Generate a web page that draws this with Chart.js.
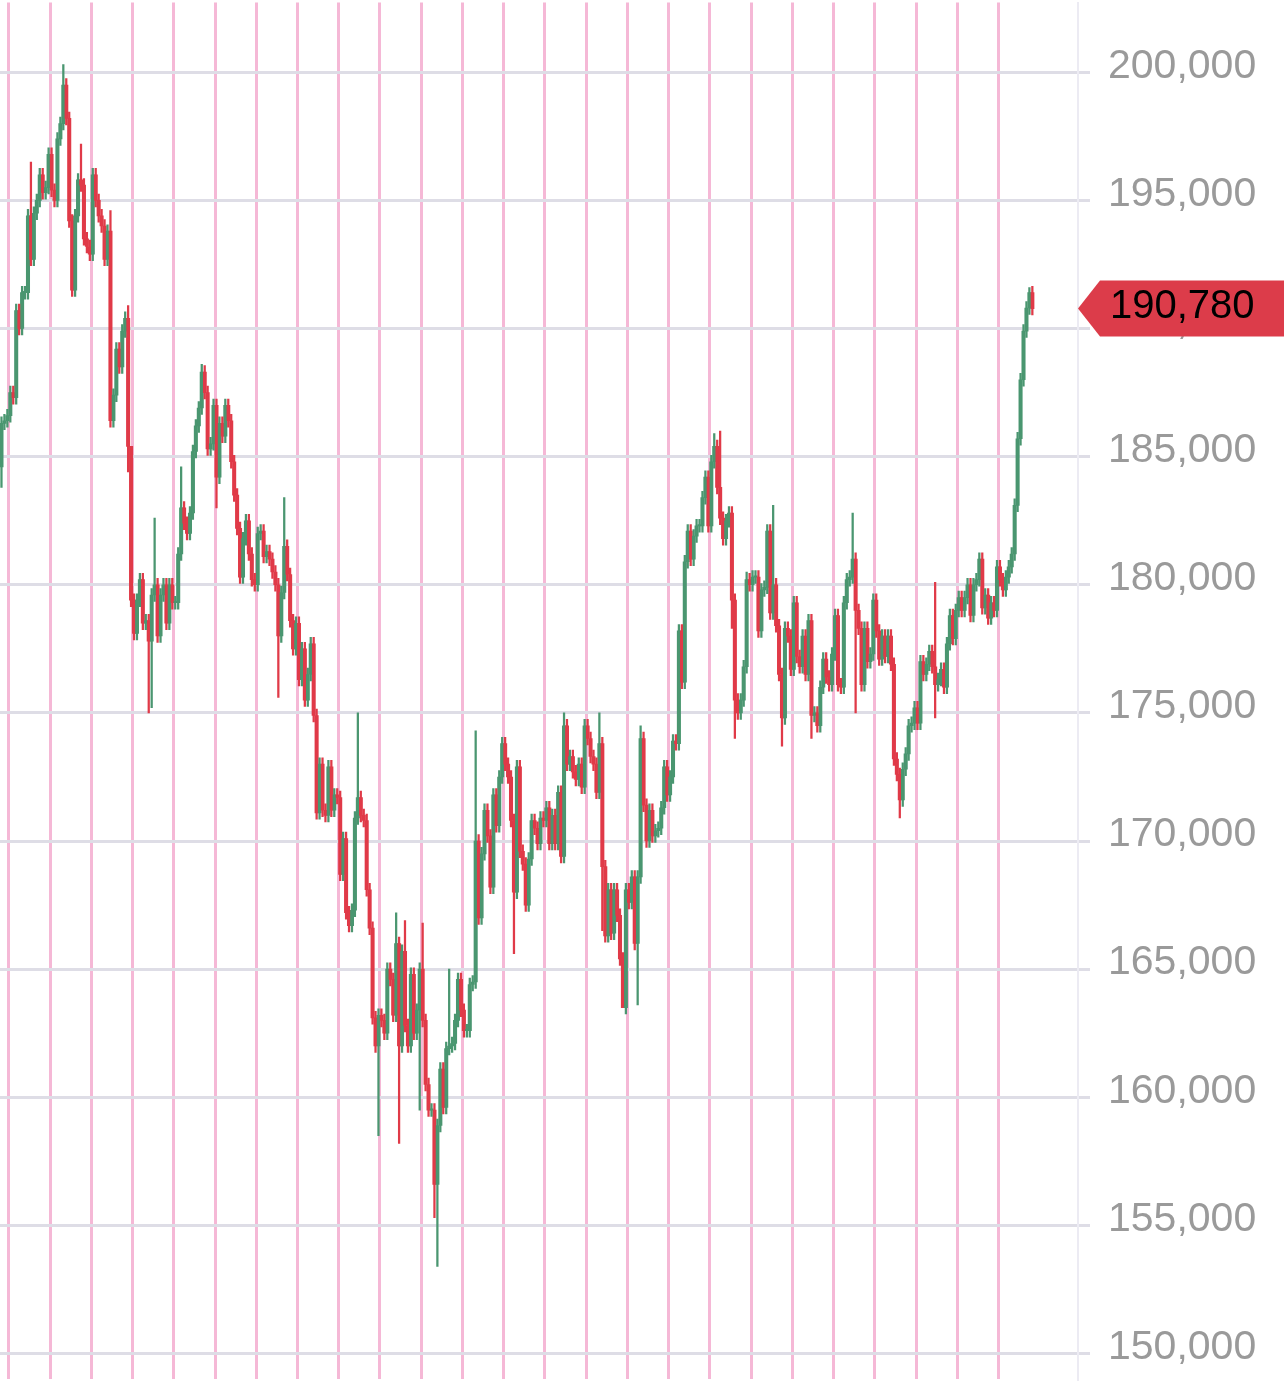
<!DOCTYPE html>
<html><head><meta charset="utf-8">
<script src="https://cdn.jsdelivr.net/npm/chart.js@4"></script>
<style>html,body{margin:0;padding:0;background:#fff;overflow:hidden;width:1284px;height:1381px;}canvas{display:block;position:absolute;left:0;top:-40px;}</style>
</head><body>
<canvas id="c" width="1284" height="1462"></canvas>
<script>
// closing prices in thousands
const closes = [
186.3,186.4,186.6,187.5,187.3,190.7,190.0,191.4,191.4,194.4,192.7,194.5,195.0,196.0,195.3,195.5,196.8,195.4,195.0,197.4,198.0,199.5,198.2,194.2,191.5,194.4,195.8,195.6,193.5,193.2,192.9,196.0,195.0,194.4,194.0,192.7,193.8,186.4,187.4,189.2,188.5,189.9,190.4,185.4,
179.4,178.1,179.4,180.2,178.5,178.6,177.8,179.6,180.0,178.0,179.6,180.0,178.5,180.0,179.3,179.3,181.2,183.0,182.4,182.0,182.8,185.2,186.2,186.9,188.3,187.5,185.3,185.5,187.0,184.2,186.3,185.8,187.0,186.4,184.8,183.5,182.2,180.3,181.8,182.5,181.2,180.2,180.0,182.0,
182.1,181.1,181.3,181.0,180.5,180.0,178.0,179.7,181.5,180.4,178.6,177.5,178.5,176.3,177.5,175.5,176.5,177.7,174.9,171.1,173.0,171.2,171.0,172.9,171.2,171.8,171.7,168.7,170.1,167.2,166.7,167.3,170.9,171.7,171.0,170.8,168.1,166.6,163.1,162.0,163.2,163.0,162.5,165.0,164.6,163.2,166.0,162.0,165.7,162.8,162.0,164.8,162.5,163.4,165.0,163.0,160.5,159.5,159.5,156.6,158.9,161.1,159.6,161.9,162.0,162.1,163.0,164.6,163.4,162.6,162.6,164.4,164.5,170.0,167.0,169.5,171.2,170.2,168.2,171.8,170.6,172.5,173.8,173.0,
172.5,170.8,168.0,172.9,169.6,169.1,167.5,169.3,170.8,170.5,169.9,170.9,170.8,171.3,169.9,171.0,169.9,171.9,169.4,174.5,173.0,173.3,172.7,172.4,173.0,172.1,174.5,174.0,173.3,173.0,171.9,173.8,169.0,166.3,168.1,166.4,168.1,167.1,165.4,163.5,168.1,167.6,168.6,166.0,168.6,174.0,171.4,170.0,171.2,170.2,170.4,170.5,171.3,172.9,171.8,172.5,173.9,173.8,178.2,176.2,180.9,182.1,181.0,181.9,182.3,182.3,183.4,184.2,182.3,184.8,185.4,183.8,182.6,181.8,182.5,182.8,179.4,175.5,175.0,175.5,176.8,180.2,180.0,
180.3,180.3,178.2,179.8,179.9,182.1,178.9,180.0,178.4,176.5,174.8,178.3,178.0,176.7,179.3,177.2,176.8,178.0,176.5,178.6,174.9,175.0,174.5,176.0,177.1,176.4,176.1,177.3,178.8,176.1,176.0,179.3,180.2,180.3,181.0,179.0,178.3,176.1,178.3,177.0,177.3,179.4,178.2,177.1,178.0,177.2,178.0,176.9,173.2,172.6,171.6,172.8,173.4,174.5,174.6,175.2,174.6,177.0,176.5,176.9,177.4,176.8,176.1,176.3,176.7,176.0,177.7,178.8,177.9,179.0,179.5,179.0,179.5,180.0,178.8,180.0,180.2,181.0,179.1,179.6,178.7,179.3,179.0,180.7,180.2,179.8,180.3,180.7,181.2,183.1,185.7,188.0,189.9,190.8,191.4,190.78
];
const firstOpen = 184.6;
// notable wick extremes (index: value, thousands)
const highSpikes = {10:196.5,21:200.3,27:197.2,37:194.6,43:190.9,44:182.6,52:182.6,61:184.6,68:188.6,96:183.4,121:175.0,134:167.2,137:166.9,143:166.8,152:165.0,161:174.3,191:175.0,203:175.0,217:174.5,242:185.9,244:186.0,253:180.5,262:183.1,289:182.8,317:180.1,349:191.6};
const lowSpikes = {0:183.8,43:184.4,50:175.0,51:175.2,73:183.0,94:175.6,128:158.5,135:158.2,142:159.5,147:155.3,148:153.4,174:165.6,204:166.5,211:163.6,216:163.6,248:178.3,249:174.0,265:173.7,275:174.0,290:175.0,305:170.9,317:174.8};
const yTicks = [150,155,160,165,170,175,180,185,190,195,200];
const lastPrice = 190.78;
const slotCount = 366;

const labels = Array.from({length: slotCount}, (_, i) => i);
const bodies = [], wicks = [], colors = [];
closes.forEach((c, i) => {
  const o = i === 0 ? firstOpen : closes[i-1];
  const hi = highSpikes[i] !== undefined ? highSpikes[i] : Math.max(o, c) + 0.25;
  const lo = lowSpikes[i] !== undefined ? lowSpikes[i] : Math.min(o, c) - 0.25;
  bodies.push([o, c === o ? c + 0.05 : c]);
  wicks.push([lo, hi]);
  colors.push(c >= o ? '#4a9670' : '#e03a48');
});

const FONT = '"Liberation Sans", Arial, sans-serif';
const priceTag = {
  id: 'priceTag',
  afterDraw(chart) {
    const ctx = chart.ctx, y = chart.scales.y.getPixelForValue(lastPrice);
    const left = chart.chartArea.right;
    ctx.save();
    ctx.fillStyle = '#dc3c4a';
    ctx.beginPath();
    ctx.moveTo(left, y);
    ctx.lineTo(left + 22, y - 28);
    ctx.lineTo(1284, y - 28);
    ctx.lineTo(1284, y + 28);
    ctx.lineTo(left + 22, y + 28);
    ctx.closePath();
    ctx.fill();
    ctx.fillStyle = '#000';
    ctx.font = '40px ' + FONT;
    ctx.textBaseline = 'middle';
    ctx.fillText((lastPrice*1000).toLocaleString('en-US'), 1110, y - 2);
    ctx.restore();
  }
};

new Chart(document.getElementById('c'), {
  type: 'bar',
  data: {
    labels,
    datasets: [
      {data: wicks, backgroundColor: colors, barThickness: 1.6, grouped: false, borderWidth: 0},
      {data: bodies, backgroundColor: colors, barThickness: 3.4, grouped: false, borderWidth: 0}
    ]
  },
  options: {
    responsive: false, animation: false, devicePixelRatio: 1,
    plugins: {legend: {display: false}, tooltip: {enabled: false}},
    scales: {
      x: {
        offset: true,
        ticks: {display: false, autoSkip: false},
        border: {display: false},
        grid: {
          offset: true, drawTicks: false, lineWidth: 3,
          color: ctx => ((ctx.index - 3) % 14 === 0 && ctx.index >= 3 && ctx.index <= 339) ? '#f5b8d6' : 'rgba(0,0,0,0)'
        },
        afterFit: s => { s.height = 0; }
      },
      y: {
        position: 'right',
        min: 148.99, max: 202.72,
        afterBuildTicks: s => { s.ticks = yTicks.map(v => ({value: v})); },
        ticks: {
          color: '#9a9a9a', padding: 18, crossAlign: 'near', labelOffset: -6,
          font: {size: 41, family: FONT},
          callback: v => (v*1000).toLocaleString('en-US')
        },
        grid: {color: '#dedde6', lineWidth: 3, tickLength: 12},
        border: {color: '#ecebf3', width: 2},
        afterFit: s => { s.width = 206; }
      }
    }
  },
  plugins: [priceTag]
});
</script>
</body></html>
